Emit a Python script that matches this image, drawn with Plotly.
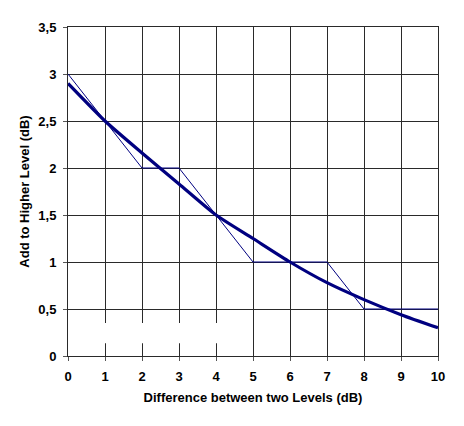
"""Add-to-higher-level chart for combining two sound levels (dB)."""

import plotly.graph_objects as go

# ---------------------------------------------------------------------------
# Data
# ---------------------------------------------------------------------------
level_diff = [0, 1, 2, 3, 4, 5, 6, 7, 8, 9, 10]
add_curve = [2.9, 2.5, 2.16, 1.83, 1.5, 1.25, 1.0, 0.78, 0.6, 0.44, 0.3]
add_rounded = [3.0, 2.5, 2.0, 2.0, 1.5, 1.0, 1.0, 1.0, 0.5, 0.5, 0.5]

x_ticks = list(range(0, 11))
y_ticks = [0, 0.5, 1, 1.5, 2, 2.5, 3, 3.5]

_NAVY = "#000080"
_FONT = dict(family="Liberation Sans, Arial, sans-serif", size=13, color="black", weight="bold")

fig = go.Figure()

# Thin line: rounded table values
fig.add_trace(
    go.Scatter(
        x=level_diff, y=add_rounded,
        mode="lines", line=dict(color=_NAVY, width=1),
        showlegend=False, hoverinfo="skip",
    )
)

# Thick line: the smooth curve
fig.add_trace(
    go.Scatter(
        x=level_diff, y=add_curve,
        mode="lines", line=dict(color=_NAVY, width=3.2, shape="spline", smoothing=0.6),
        showlegend=False, hoverinfo="skip",
    )
)

# Empty white box that hides a piece of the grid near the bottom
fig.add_shape(
    type="rect", xref="x", yref="y",
    x0=0.4, x1=4.6, y0=0.135, y1=0.35,
    fillcolor="white", line=dict(width=0), layer="between",
)

axis_common = dict(
    showgrid=True, gridcolor="#2a2a2a", gridwidth=1,
    showline=True, linecolor="#2a2a2a", linewidth=1, mirror=True,
    ticks="outside", ticklen=4, tickcolor="#555555",
    zeroline=False, tickfont=_FONT, ticklabelstandoff=4,
)

fig.update_xaxes(
    range=[0, 10], tickvals=x_ticks,
    title=dict(text="Difference between two Levels (dB)", font=_FONT, standoff=10),
    **axis_common,
)
fig.update_yaxes(
    range=[0, 3.5], tickvals=y_ticks,
    title=dict(text="Add to Higher Level (dB)", font=_FONT, standoff=5),
    **axis_common,
)

fig.update_layout(
    width=464, height=426,
    margin=dict(l=60, r=34, t=19, b=78),
    paper_bgcolor="white", plot_bgcolor="white",
    separators=",.",
    font=_FONT,
)

fig.write_html("out.html")
